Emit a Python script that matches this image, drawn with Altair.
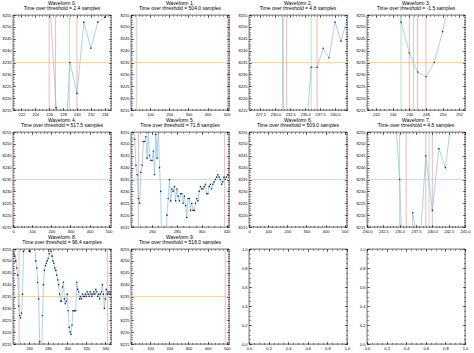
import math
import altair as alt
import pandas as pd

FONT = "Liberation Sans"
W, H = 98, 95
BLUE = "#86bde3"
DOT = "#1c2b4a"
RED = "#f2a3a3"
GREEN = "#a9d6a9"
ORANGE = "#f6c996"
THRESH = 8235
Y_DOMAIN = [8215, 8255]

tot = ["2.4", "504.0", "4.8", "-1.5", "517.5", "71.8", "509.0", "4.5", "96.4", "518.0"]

# ---- waveform samples ----
p0_x = [224, 225, 226, 227, 228, 229, 230, 231, 232, 233, 234, 235]
p0_y = [8290, 8285, 8266, 8216, 8185, 8235, 8222, 8252, 8241, 8252, 8254, 8256]

p2_x = [228, 229, 230, 231, 232, 233, 234, 235, 236, 237, 238, 239, 240, 241, 242, 243]
p2_y = [8500, 8500, 8500, 8500, 7700, 7800, 8000, 8200, 8233, 8233, 8241, 8237,
        8252, 8244, 8253, 8262]

p3_x = [243, 244, 245, 246, 247, 248, 249, 250, 251, 252]
p3_y = [8300, 8300, 8252, 8239, 8231, 8229, 8235, 8248, 8264, 8280]

p5_y = [8262, 8258, 8252, 8241, 8237, 8227, 8225, 8238, 8241, 8251, 8251, 8253,
        8244, 8255, 8245, 8243, 8243, 8247, 8237, 8254, 8244, 8256, 8240, 8230,
        8200, 8190, 8195, 8205, 8220, 8227, 8235, 8226, 8231, 8230, 8232, 8226,
        8231, 8228, 8226, 8229, 8229, 8225, 8228, 8224, 8219, 8227, 8227, 8222,
        8225, 8222, 8222, 8225, 8227, 8226, 8230, 8232, 8231, 8231, 8232, 8233,
        8229, 8229, 8232, 8233, 8231, 8233, 8234, 8235, 8236, 8237, 8236, 8235,
        8233, 8234, 8236, 8235, 8236, 8237, 8237]
p5_x = list(range(244, 244 + len(p5_y)))

p7_x = [233, 234, 235, 236, 237, 238, 239, 240, 241, 242, 243, 244]
p7_y = [8300, 8275, 8235, 8150, 8221, 8204, 8245, 8222, 8248, 8240, 8262, 8280]

p8_y = [8254, 8253, 8252, 8250, 8247, 8244, 8231, 8227, 8226, 8228, 8236, 8254,
        8262, 8265, 8266, 8264, 8260, 8254, 8254, 8258, 8262, 8263, 8260, 8256,
        8250, 8247, 8241, 8234, 8216, 8195, 8205, 8227, 8240, 8246, 8248, 8249,
        8250, 8251, 8253, 8255, 8254, 8252, 8250, 8249, 8247, 8246, 8244, 8242,
        8240, 8236, 8233, 8233, 8239, 8241, 8234, 8232, 8233, 8236, 8229, 8222,
        8220, 8219, 8223, 8229, 8229, 8229, 8229, 8241, 8238, 8237, 8234, 8235,
        8234, 8236, 8235, 8235, 8236, 8235, 8237, 8236, 8235, 8237, 8236, 8235,
        8236, 8237, 8236, 8238, 8237, 8235, 8236, 8234, 8236, 8237, 8240, 8236,
        8230, 8234, 8238, 8236, 8237, 8236, 8237, 8236]
p8_x = list(range(243, 243 + len(p8_y)))

series = {0: (p0_x, p0_y), 2: (p2_x, p2_y), 3: (p3_x, p3_y), 5: (p5_x, p5_y),
          7: (p7_x, p7_y), 8: (p8_x, p8_y)}

# ---- marker lines (red = samples, green = crossings) ----
reds = {0: [226, 226.9, 230], 1: [505], 2: [231.9, 237], 3: [246, 247, 248],
        4: [1, 509], 5: [249, 318.5], 6: [1, 510], 7: [236, 239, 240],
        8: [249.4, 342.5], 9: [2, 492]}
greens = {0: [228.9], 1: [30], 2: [231.2, 236], 3: [245, 246.5], 7: [235, 239.5]}

# ---- axes ----
x_domains = [[220.8, 234.9], [0, 512], [225.6, 242.0], [240.9, 252.7], [0, 512],
             [243, 322], [0, 512], [230, 245], [243, 346], [0, 512]]
x_major = [2, 100, 2.5, 2, 100, 20, 100, 2.5, 20, 100]
x_minor = [0.5, 20, 0.5, 0.5, 20, 5, 20, 0.5, 5, 20]
x_fmt = ["d", "d", ".1f", "d", "d", "d", "d", ".1f", "d", "d"]


def tick_values(lo, hi, step):
    k0 = math.ceil(lo / step - 1e-9)
    k1 = math.floor(hi / step + 1e-9)
    return [round(k * step, 6) for k in range(k0, k1 + 1)]


def make_panel(title, xd, yd, xmaj, xmin, ymaj, ymin, xfmt, yfmt, data=None,
               red=(), green=(), thresh=True):
    xs = alt.Scale(domain=xd, nice=False, zero=False)
    ys = alt.Scale(domain=yd, nice=False, zero=False)
    corners = pd.DataFrame({"x": xd, "y": yd})
    layers = []
    if thresh:
        layers.append(alt.Chart(pd.DataFrame({"y": [THRESH]})).mark_rule(
            color=ORANGE, strokeWidth=0.8).encode(
            y=alt.Y("y:Q", scale=ys, axis=None)))
    if green:
        layers.append(alt.Chart(pd.DataFrame({"x": list(green)})).mark_rule(
            color=GREEN, strokeWidth=0.8, clip=True).encode(
            x=alt.X("x:Q", scale=xs, axis=None)))
    if red:
        layers.append(alt.Chart(pd.DataFrame({"x": list(red)})).mark_rule(
            color=RED, strokeWidth=0.8, clip=True).encode(
            x=alt.X("x:Q", scale=xs, axis=None)))
    if data is not None:
        df = pd.DataFrame({"x": data[0], "y": data[1]})
        layers.append(alt.Chart(df).mark_line(
            color=BLUE, strokeWidth=0.7, clip=True).encode(
            x=alt.X("x:Q", scale=xs, axis=None),
            y=alt.Y("y:Q", scale=ys, axis=None)))
        layers.append(alt.Chart(df).mark_point(
            filled=True, size=2.5, color=DOT, opacity=1, clip=True).encode(
            x=alt.X("x:Q", scale=xs, axis=None),
            y=alt.Y("y:Q", scale=ys, axis=None)))

    xM = tick_values(xd[0], xd[1], xmaj)
    xm = tick_values(xd[0], xd[1], xmin)
    yM = tick_values(yd[0], yd[1], ymaj)
    ym = tick_values(yd[0], yd[1], ymin)

    def lab_axis(orient, vals, fmt):
        return alt.Axis(orient=orient, values=vals, format=fmt, ticks=False,
                        domain=False, grid=False, title=None, labelFontSize=4,
                        labelFont=FONT, labelColor="black", labelPadding=2,
                        labelFlush=False, labelOverlap=False, labelBound=False)

    def tick_axis(orient, vals, size, offset):
        return alt.Axis(orient=orient, values=vals, labels=False, ticks=True,
                        tickSize=size, tickWidth=0.5, tickColor="black",
                        domain=False, grid=False, title=None, offset=offset,
                        zindex=1)

    def ax_layer(xa, ya):
        return alt.Chart(corners).mark_point(opacity=0, size=1).encode(
            x=alt.X("x:Q", scale=xs, axis=xa),
            y=alt.Y("y:Q", scale=ys, axis=ya))

    layers.append(ax_layer(lab_axis("bottom", xM, xfmt), lab_axis("left", yM, yfmt)))
    layers.append(ax_layer(tick_axis("top", xM, 2.6, -H), tick_axis("right", yM, 2.6, -W)))
    layers.append(ax_layer(tick_axis("top", xm, 1.3, -H), tick_axis("right", ym, 1.3, -W)))
    layers.append(ax_layer(tick_axis("bottom", xM, 2.6, -H), tick_axis("left", yM, 2.6, -W)))
    layers.append(ax_layer(tick_axis("bottom", xm, 1.3, -H), tick_axis("left", ym, 1.3, -W)))

    props = dict(width=W, height=H)
    if title is not None:
        props["title"] = alt.TitleParams(text=title, fontSize=5, font=FONT,
                                         fontWeight="normal", color="black",
                                         offset=2, lineHeight=5.5, anchor="middle")
    return alt.layer(*layers).resolve_axis(x="independent", y="independent").properties(**props)


panels = []
for i in range(10):
    panels.append(make_panel(
        [f"Waveform {i}.", f"Time over threshold = {tot[i]} samples"],
        x_domains[i], Y_DOMAIN, x_major[i], x_minor[i], 5, 1, x_fmt[i], "d",
        data=series.get(i), red=reds.get(i, ()), green=greens.get(i, ())))
for _ in range(2):
    panels.append(make_panel(None, [0, 1], [0, 1], 0.2, 0.05, 0.2, 0.05, ".1f", ".1f",
                             thresh=False))

chart = alt.concat(*panels, columns=4, spacing={"row": 22, "column": 20},
                   bounds="flush").properties(
    padding={"left": 1, "top": 0, "right": 0, "bottom": 0}
).configure_view(stroke="black", strokeWidth=0.6)

chart.save("out.html", embed_options={"renderer": "svg", "actions": False})
